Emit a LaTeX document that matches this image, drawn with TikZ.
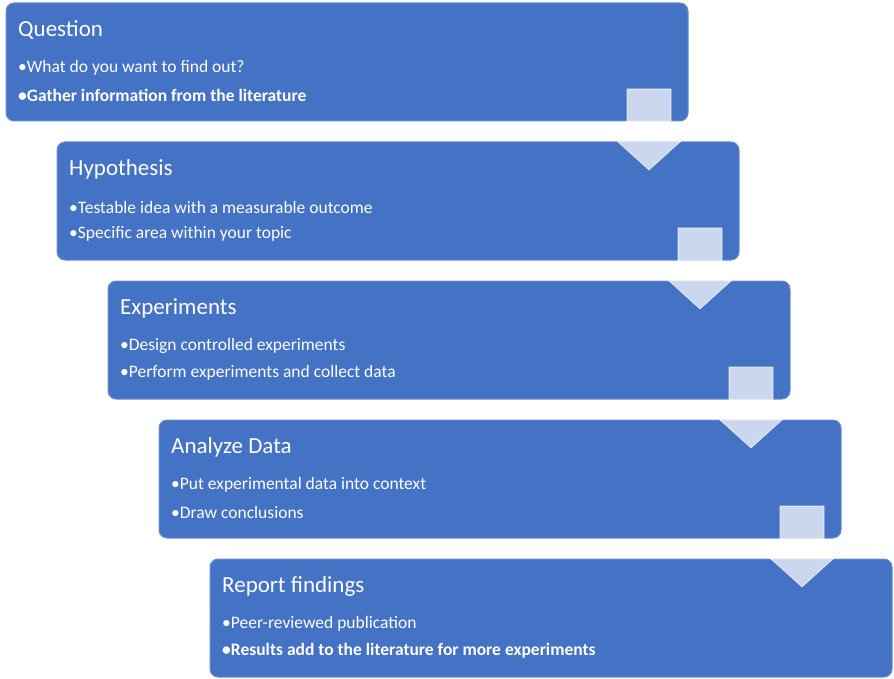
\documentclass[tikz,border=0pt]{standalone}
\usepackage{fontspec}
\setmainfont{Carlito}
\begin{document}
\begin{tikzpicture}[x=1pt,y=-1pt,
  stepbox/.style={fill=boxblue,draw=boxblue!80!white,line width=1pt,rounded corners=8pt},
  ttl/.style={anchor=west,text=white,font=\fontsize{23}{26}\selectfont,inner sep=0pt},
  bul/.style={anchor=west,text=white,font=\fontsize{17.5}{20}\selectfont,inner sep=0pt},
  flowarrow/.style={fill=white,fill opacity=0.72,draw=white,draw opacity=0.8,line width=0.6pt}]
\definecolor{boxblue}{HTML}{4472C4}
\useasboundingbox (0,0) rectangle (894,679);
\foreach \i/\t/\a/\b/\bold in {0/Question/What do you want to find out?/Gather information from the literature/1,
  1/Hypothesis/Testable idea with a measurable outcome/Specific area within your topic/0,
  2/Experiments/Design controlled experiments/Perform experiments and collect data/0,
  3/Analyze Data/Put experimental data into context/Draw conclusions/0,
  4/Report findings/Peer-reviewed publication/Results add to the literature for more experiments/1}{
  \pgfmathsetmacro{\dx}{51*\i}
  \pgfmathsetmacro{\dy}{139*\i}
  \draw[stepbox] (6+\dx,3+\dy) rectangle ++(682,118);
  \node[ttl] (t\i) at (18+\dx,30+\dy) {\t};
  \node[bul] (a\i) at (18+\dx,68+\dy) {•\a};
  \ifnum\bold=1
    \node[bul,font=\fontsize{17.5}{20}\selectfont\bfseries] (b\i) at (18+\dx,95+\dy) {•\b};
  \else
    \node[bul] (b\i) at (18+\dx,95+\dy) {•\b};
  \fi
}
\foreach \i in {0,1,2,3}{
  \pgfmathsetmacro{\dx}{51*\i}
  \pgfmathsetmacro{\dy}{139*\i}
  \draw[flowarrow] (627+\dx,89+\dy) -- (671+\dx,89+\dy) -- (671+\dx,132+\dy) -- (691+\dx,132+\dy)
    -- (649+\dx,170+\dy) -- (607+\dx,132+\dy) -- (627+\dx,132+\dy) -- cycle;
}
\end{tikzpicture}
\end{document}
